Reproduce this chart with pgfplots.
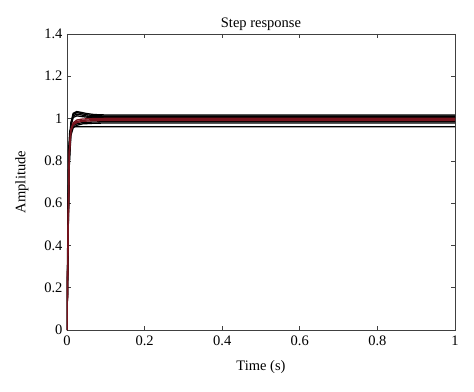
\documentclass[border=0pt]{standalone}
\usepackage{fontspec}
\setmainfont{Liberation Serif}
\usepackage{pgfplots}
\pgfplotsset{compat=1.18}
\definecolor{dred}{RGB}{120,20,30}
\begin{document}
\begin{tikzpicture}
\begin{axis}[name=ax,
  width=388pt, height=296pt, scale only axis,
  xmin=0, xmax=1, ymin=0, ymax=1.4,
  xtick={0,0.2,...,1}, ytick={0,0.2,...,1.4},
  xticklabels={0,0.2,0.4,0.6,0.8,1},
  yticklabels={0,0.2,0.4,0.6,0.8,1,1.2,1.4},
  tick align=inside, tick pos=both,
  major tick length=4pt,
  /pgf/number format/assume math mode=true,
  ticklabel style={font=\fontsize{14.5}{16}\selectfont},
  xticklabel style={yshift=-2pt},
  yticklabel style={xshift=-1pt},
  title={Step response},
  title style={font=\fontsize{14.5}{16}\selectfont, yshift=-6pt},
  xlabel={Time (s)}, ylabel={Amplitude},
  xlabel style={font=\fontsize{14.5}{16}\selectfont, at={(axis description cs:0.5,0)}, anchor=center, yshift=-37pt},
  ylabel style={font=\fontsize{14.5}{16}\selectfont, at={(axis description cs:0,0.5)}, anchor=center, yshift=45pt},
  axis line style={black!75, line width=0.9pt},
  every tick/.style={black!75, line width=0.7pt},
  clip=true,
]
% family of black step responses
\addplot[black, line width=1.3pt] coordinates {(0,0)(0.003,0.55)(0.006,0.88)(0.01,0.98)(0.016,1.025)(0.025,1.033)(0.035,1.03)(0.05,1.024)(0.07,1.019)(0.1,1.017)(1,1.017)};
\addplot[black, line width=1.3pt] coordinates {(0,0)(0.003,0.55)(0.006,0.87)(0.01,0.975)(0.016,1.02)(0.025,1.028)(0.035,1.025)(0.05,1.018)(0.07,1.014)(0.1,1.012)(1,1.012)};
\addplot[black, line width=1.3pt] coordinates {(0,0)(0.003,0.52)(0.006,0.86)(0.01,0.97)(0.016,1.013)(0.025,1.021)(0.035,1.018)(0.05,1.012)(0.07,1.009)(0.1,1.008)(1,1.008)};
\addplot[black, line width=1.3pt] coordinates {(0,0)(0.003,0.5)(0.006,0.85)(0.01,0.965)(0.016,1.005)(0.025,1.013)(0.04,1.009)(0.06,1.005)(0.1,1.004)(1,1.004)};
\addplot[black, line width=1.3pt] coordinates {(0,0)(0.003,0.46)(0.006,0.8)(0.01,0.93)(0.016,0.967)(0.025,0.975)(0.04,0.981)(0.07,0.984)(0.1,0.985)(1,0.985)};
\addplot[black, line width=1.3pt] coordinates {(0,0)(0.003,0.45)(0.006,0.78)(0.01,0.92)(0.016,0.957)(0.025,0.968)(0.04,0.975)(0.07,0.978)(0.1,0.979)(1,0.979)};
% low steady-state response
\addplot[black, line width=1.2pt] coordinates {(0,0)(0.002,0.5)(0.004,0.85)(0.007,0.94)(0.012,0.958)(0.02,0.961)(1,0.961)};
% red responses
\addplot[dred, line width=1.3pt] coordinates {(0,0)(0.003,0.5)(0.006,0.85)(0.01,0.95)(0.016,0.98)(0.025,0.993)(0.04,0.998)(0.07,1.0)(0.1,1.001)(1,1.001)};
\addplot[dred, line width=1.3pt] coordinates {(0,0)(0.003,0.5)(0.006,0.84)(0.01,0.945)(0.016,0.975)(0.025,0.986)(0.04,0.992)(0.07,0.995)(0.1,0.996)(1,0.996)};
\addplot[dred, line width=1.3pt] coordinates {(0,0)(0.003,0.48)(0.006,0.83)(0.01,0.94)(0.016,0.97)(0.025,0.981)(0.04,0.987)(0.07,0.99)(0.1,0.991)(1,0.991)};
\end{axis}
\pgfresetboundingbox
\path ([xshift=-67pt,yshift=-61pt]ax.south west) rectangle ([xshift=19pt,yshift=34pt]ax.north east);
\end{tikzpicture}
\end{document}
